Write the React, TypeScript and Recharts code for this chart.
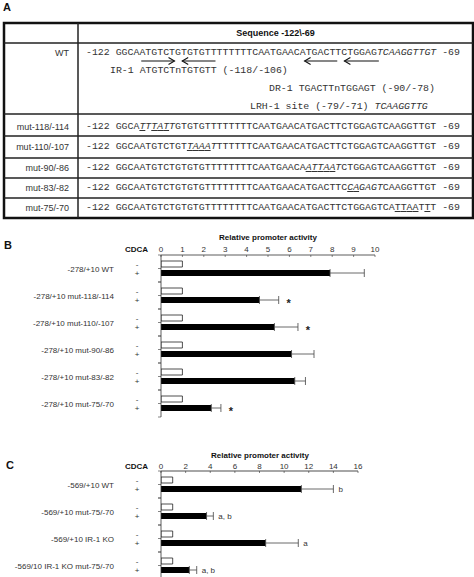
import React from 'react';
import { BarChart, Bar, XAxis, YAxis, ErrorBar, LabelList } from 'recharts';

// ---- panel A: promoter sequences ----
const rowLabels = ['WT', 'mut-118/-114', 'mut-110/-107', 'mut-90/-86', 'mut-83/-82', 'mut-75/-70'];
const rowSeqs = [
  'GGCAATGTCTGTGTGTTTTTTTTCAATGAACATGACTTCTGGAGTCAAGGTTGT',
  'GGCATTTATTGTGTGTTTTTTTTCAATGAACATGACTTCTGGAGTCAAGGTTGT',
  'GGCAATGTCTGTTAAATTTTTTTCAATGAACATGACTTCTGGAGTCAAGGTTGT',
  'GGCAATGTCTGTGTGTTTTTTTTCAATGAACAATTAATCTGGAGTCAAGGTTGT',
  'GGCAATGTCTGTGTGTTTTTTTTCAATGAACATGACTTCCAGAGTCAAGGTTGT',
  'GGCAATGTCTGTGTGTTTTTTTTCAATGAACATGACTTCTGGAGTCATTAATTT',
];
const rowItalic: (number[] | null)[] = [[44, 53], [4, 9], [12, 16], [32, 37], [39, 44], null];
const rowUnder: number[][][] = [[], [[4, 4], [6, 8]], [[12, 15]], [[32, 36]], [[39, 40]], [[47, 50], [52, 52]]];
const rowCenters = [53, 126.5, 146.5, 168, 187.5, 208];

// ---- panel B ----
const constructsB = [
  '-278/+10 WT',
  '-278/+10 mut-118/-114',
  '-278/+10 mut-110/-107',
  '-278/+10 mut-90/-86',
  '-278/+10 mut-83/-82',
  '-278/+10 mut-75/-70',
];
const minusB = [1.0, 1.0, 1.0, 1.0, 1.0, 1.0];
const plusB = [7.9, 4.6, 5.3, 6.1, 6.25, 2.35];
const errB = [1.6, 0.9, 1.1, 1.05, 0.5, 0.45];
const marksB = ['', '*', '*', '', '', '*'];
const ticksB = [0, 1, 2, 3, 4, 5, 6, 7, 8, 9, 10];

// ---- panel C ----
const constructsC = [
  '-569/+10 WT',
  '-569/+10 mut-75/-70',
  '-569/+10 IR-1 KO',
  '-569/10 IR-1 KO mut-75/-70',
];
const minusC = [0.95, 0.95, 0.95, 0.95];
const plusC = [11.4, 3.7, 8.5, 2.3];
const errC = [2.6, 0.55, 2.65, 0.6];
const marksC = ['b', 'a, b', 'a', 'a, b'];
const ticksC = [0, 2, 4, 6, 8, 10, 12, 14, 16];

const SANS = '"Liberation Sans", Arial, sans-serif';
const MONO = '"Liberation Mono", "Courier New", monospace';
const INK = '#333';
const CH = 5.94;
const SEQ_X = 86;
const BASE_X = SEQ_X + 5 * CH;

function SeqLine({ seq, italic, under, cy }: any) {
  return (
    <div
      style={{
        position: 'absolute', left: SEQ_X, top: cy - 6, height: 12, lineHeight: '12px',
        fontFamily: MONO, fontSize: 9.9, whiteSpace: 'pre', color: INK,
      }}
    >
      {'-122 '}
      {seq.split('').map((c: string, i: number) => {
        const it = italic && i >= italic[0] && i <= italic[1];
        const un = under.some(([a, b]: number[]) => i >= a && i <= b);
        return (
          <span key={i} style={{ fontStyle: it ? 'italic' : 'normal', textDecoration: un ? 'underline' : 'none' }}>
            {c}
          </span>
        );
      })}
      {' -69'}
    </div>
  );
}

function MonoNote({ x, cy, children }: any) {
  return (
    <div
      style={{
        position: 'absolute', left: x, top: cy - 6, height: 12, lineHeight: '12px',
        fontFamily: MONO, fontSize: 9.9, whiteSpace: 'pre', color: INK,
      }}
    >
      {children}
    </div>
  );
}

function Arrow({ from, to }: { from: number; to: number }) {
  const x1 = BASE_X + from * CH;
  const x2 = BASE_X + to * CH;
  const y = 61;
  const d = x2 > x1 ? -1 : 1;
  return (
    <g stroke="#111" strokeWidth={1.1} fill="none">
      <line x1={x1} y1={y} x2={x2} y2={y} />
      <polyline points={`${x2 + d * 6},${y - 3.5} ${x2},${y} ${x2 + d * 6},${y + 3.5}`} />
    </g>
  );
}

function SequenceTable() {
  const hLines = [43, 114, 136, 158, 178, 198];
  return (
    <>
      <svg width={474} height={230} style={{ position: 'absolute', left: 0, top: 0 }}>
        <rect x={4} y={23} width={469} height={195} fill="none" stroke="#111" strokeWidth={2.5} />
        {hLines.map((y) => (
          <line key={y} x1={4} x2={473} y1={y} y2={y} stroke="#222" strokeWidth={1.5} />
        ))}
        <line x1={78} x2={78} y1={23} y2={218} stroke="#222" strokeWidth={1.5} />
        <Arrow from={4.3} to={9.9} />
        <Arrow from={16.8} to={11.2} />
        <Arrow from={37.3} to={31.8} />
        <Arrow from={44.3} to={38.5} />
      </svg>
      <div style={{ position: 'absolute', left: 78, width: 395, top: 27, height: 12, lineHeight: '12px', textAlign: 'center', fontFamily: SANS, fontSize: 9, fontWeight: 'bold', color: '#111' }}>
        Sequence -122\-69
      </div>
      {rowLabels.map((label, i) => (
        <div key={label} style={{ position: 'absolute', left: 0, width: 69, top: rowCenters[i] - 6, height: 12, lineHeight: '12px', textAlign: 'right', fontFamily: SANS, fontSize: 9, color: INK }}>
          {label}
        </div>
      ))}
      {rowSeqs.map((seq, i) => (
        <SeqLine key={i} seq={seq} italic={rowItalic[i]} under={rowUnder[i]} cy={rowCenters[i]} />
      ))}
      <MonoNote x={110} cy={71}>IR-1 ATGTCTnTGTGTT (-118/-106)</MonoNote>
      <MonoNote x={269} cy={89}>DR-1 TGACTTnTGGAGT (-90/-78)</MonoNote>
      <MonoNote x={250} cy={107}>
        {'LRH-1 site (-79/-71) '}
        <span style={{ fontStyle: 'italic' }}>TCAAGGTTG</span>
      </MonoNote>
    </>
  );
}

function ActivityChart({ names, minus, plus, err, marks, ticks, domainMax, top, height, right, marginTop, marginBottom, lift, axisStroke, axisWidth }: any) {
  const data = names.map((name: string, i: number) => ({ name, minus: minus[i], plus: plus[i], err: [0, err[i]] }));

  const xTick = (p: any) => (
    <g>
      <line x1={p.x} x2={p.x} y1={p.y} y2={p.y + 2} stroke={INK} strokeWidth={0.6} />
      <text x={p.x} y={p.y - lift} textAnchor="middle" fontSize={8} fill={INK} stroke="none" fontFamily={SANS}>
        {p.payload.value}
      </text>
    </g>
  );

  const yTick = (p: any) => (
    <g>
      <text x={114} y={p.y + 3} textAnchor="end" fontSize={8} fill={INK} stroke="none" fontFamily={SANS}>{p.payload.value}</text>
      <text x={137} y={p.y - 2} textAnchor="middle" fontSize={8} fill={INK} stroke="none" fontFamily={SANS}>-</text>
      <text x={137} y={p.y + 7.2} textAnchor="middle" fontSize={8} fill={INK} stroke="none" fontFamily={SANS}>+</text>
      <line x1={158} x2={161} y1={p.y - 13.5} y2={p.y - 13.5} stroke={INK} strokeWidth={0.6} />
      <line x1={158} x2={161} y1={p.y} y2={p.y} stroke={INK} strokeWidth={0.6} />
      <line x1={158} x2={161} y1={p.y + 13.5} y2={p.y + 13.5} stroke={INK} strokeWidth={0.6} />
    </g>
  );

  const markLabel = (p: any) => {
    let i = typeof p.index === 'number' ? p.index : names.indexOf(p.value);
    if (i < 0) i = names.indexOf(p.value);
    const text = marks[i];
    if (!text) return null;
    const vb = p.viewBox ?? p;
    const end = vb.x + (vb.width * (plus[i] + err[i])) / plus[i];
    const cy = vb.y + vb.height / 2;
    if (text === '*') {
      return (
        <text x={end + 10} y={cy + 6.5} textAnchor="middle" fontSize={11} fontWeight="bold" fill="#222" fontFamily={SANS}>
          *
        </text>
      );
    }
    return (
      <text x={end + 5} y={cy + 3} fontSize={8} fill={INK} fontFamily={SANS}>
        {text}
      </text>
    );
  };

  return (
    <div style={{ position: 'absolute', left: 0, top, width: 474, height }}>
      <BarChart
        width={474}
        height={height}
        data={data}
        layout="vertical"
        barGap={3}
        margin={{ top: marginTop, right, bottom: marginBottom, left: 0 }}
        style={{ fontFamily: SANS }}
      >
        <XAxis
          type="number"
          orientation="top"
          domain={[0, domainMax]}
          ticks={ticks}
          allowDataOverflow
          height={20}
          tickLine={false}
          tickSize={0}
          tickMargin={0}
          axisLine={{ stroke: axisStroke, strokeWidth: axisWidth }}
          tick={xTick}
        />
        <YAxis
          type="category"
          dataKey="name"
          width={161}
          interval={0}
          tickLine={false}
          axisLine={{ stroke: INK, strokeWidth: 0.8 }}
          tick={yTick}
        />
        <Bar dataKey="minus" barSize={6} fill="#fff" stroke="#222" strokeWidth={0.8} isAnimationActive={false} />
        <Bar dataKey="plus" barSize={6} fill="#000" isAnimationActive={false}>
          <ErrorBar dataKey="err" direction="x" width={4} stroke="#444" strokeWidth={0.8} isAnimationActive={false} />
          <LabelList dataKey="name" content={markLabel} />
        </Bar>
      </BarChart>
    </div>
  );
}

function Caption({ cx, cy, children }: any) {
  return (
    <div style={{ position: 'absolute', left: cx - 100, width: 200, top: cy - 6, height: 12, lineHeight: '12px', textAlign: 'center', fontFamily: SANS, fontSize: 8, fontWeight: 'bold', color: '#111' }}>
      {children}
    </div>
  );
}

function Cdca({ cy }: { cy: number }) {
  return (
    <div style={{ position: 'absolute', left: 100, width: 48, top: cy - 6, height: 12, lineHeight: '12px', textAlign: 'right', fontFamily: SANS, fontSize: 8, fontWeight: 'bold', color: '#111' }}>
      CDCA
    </div>
  );
}

function PanelLetter({ x, cy, children }: any) {
  return (
    <div style={{ position: 'absolute', left: x, top: cy - 7, height: 14, lineHeight: '14px', fontFamily: SANS, fontSize: 11, fontWeight: 'bold', color: '#111' }}>
      {children}
    </div>
  );
}

export default function App() {
  return (
    <div style={{ position: 'absolute', left: 0, top: 0, width: 474, height: 577, overflow: 'hidden', background: '#fff' }}>
      <PanelLetter x={3} cy={7}>A</PanelLetter>
      <SequenceTable />

      <PanelLetter x={4} cy={245}>B</PanelLetter>
      <Caption cx={268} cy={238}>Relative promoter activity</Caption>
      <Cdca cy={249.5} />
      <ActivityChart
        names={constructsB}
        minus={minusB}
        plus={plusB}
        err={errB}
        marks={marksB}
        ticks={ticksB}
        domainMax={10}
        top={230}
        height={200}
        right={99}
        marginTop={5}
        marginBottom={13}
        lift={3}
        axisStroke={INK}
        axisWidth={0.8}
      />

      <PanelLetter x={6} cy={465}>C</PanelLetter>
      <Caption cx={260} cy={456}>Relative promoter activity</Caption>
      <Cdca cy={467} />
      <ActivityChart
        names={constructsC}
        minus={minusC}
        plus={plusC}
        err={errC}
        marks={marksC}
        ticks={ticksC}
        domainMax={16}
        top={445}
        height={140}
        right={116}
        marginTop={6}
        marginBottom={6}
        lift={2}
        axisStroke="#888"
        axisWidth={1.6}
      />
    </div>
  );
}
